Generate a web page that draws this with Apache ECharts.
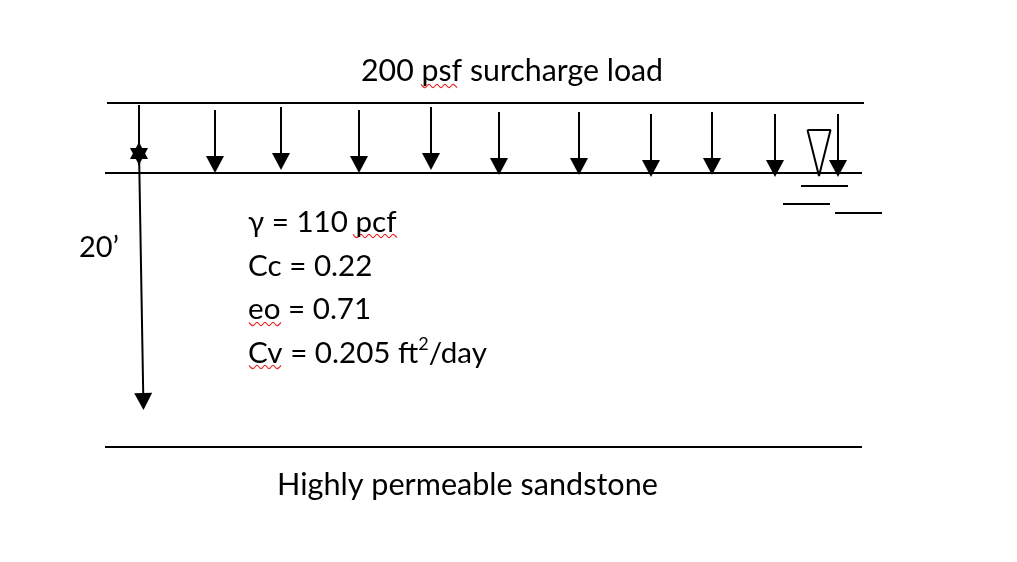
<!DOCTYPE html>
<html>
<head>
<meta charset="utf-8">
<style>html,body{margin:0;padding:0;background:#fff}#c{width:1017px;height:562px}</style>
<script src="https://cdn.jsdelivr.net/npm/echarts@6/dist/echarts.min.js"></script>
</head>
<body>
<div id="c"></div>
<script>
// Rules: [x1, y1, x2, y2]
var rules = [
  [107, 103, 864, 103],
  [105, 173, 862, 173],
  [105, 447, 862, 447],
  [801, 186, 848, 186],
  [783, 204, 830, 204],
  [835, 213, 882, 213]
];
// Arrows: [fromX, fromY, tipX, tipY]
var arrows = [
  [139, 105, 139, 165],
  [215, 110, 215, 173],
  [281, 107, 281, 170],
  [359, 110, 359, 173],
  [431, 107, 431, 170],
  [499, 112, 499, 175],
  [579, 112, 579, 175],
  [651, 114, 651, 177],
  [712, 112, 712, 175],
  [775, 114, 775, 177],
  [838, 114, 838, 177],
  [139, 165, 139, 142],
  [139, 150, 143.5, 410]
];
// Water table marker
var marker = [[807.5, 130], [830.5, 130], [819, 176], [807.5, 130]];
// Labels: [x, y, text]
var labels = [
  [361, 71, '200 psf surcharge load'],
  [79, 248, '20’'],
  [248, 222, 'γ = 110 pcf'],
  [248, 266, 'Cc = 0.22'],
  [248, 309, 'eo = 0.71'],
  [248, 353, 'Cv = 0.205 ft{s|2}/day'],
  [277, 485, 'Highly permeable sandstone']
];
// Spell-check underlines: [x1, x2, y]
var squiggles = [
  [421, 460, 86],
  [353, 398, 236],
  [249, 284, 324],
  [249, 284, 367]
];

var chart = echarts.init(document.getElementById('c'), null, {renderer: 'canvas'});
var INK = '#000000';
var FONT = 'Lato';
var SIZES = [30.3, 29, 29.6, 29.6, 29.6, 29.6, 30.6];

function renderRule(params, api) {
  var a = api.coord([api.value(0), api.value(1)]);
  var b = api.coord([api.value(2), api.value(3)]);
  return {type: 'line', shape: {x1: a[0], y1: a[1], x2: b[0], y2: b[1]},
    style: {stroke: INK, lineWidth: 2, fill: null}};
}
function renderArrow(params, api) {
  var a = api.coord([api.value(0), api.value(1)]);
  var b = api.coord([api.value(2), api.value(3)]);
  var dx = b[0] - a[0], dy = b[1] - a[1], len = Math.sqrt(dx * dx + dy * dy);
  var ux = dx / len, uy = dy / len, hl = 17, hw = 9;
  var bx = b[0] - ux * hl, by = b[1] - uy * hl;
  return {type: 'group', children: [
    {type: 'line', shape: {x1: a[0], y1: a[1], x2: bx, y2: by},
      style: {stroke: INK, lineWidth: 2, fill: null}},
    {type: 'polygon', shape: {points: [b, [bx - uy * hw, by + ux * hw], [bx + uy * hw, by - ux * hw]]},
      style: {fill: INK}}
  ]};
}
function renderLabel(params, api) {
  var p = api.coord([api.value(0), api.value(1)]);
  return {type: 'text', x: p[0], y: p[1], style: {
    text: labels[params.dataIndex][2], fill: INK, align: 'left', verticalAlign: 'middle',
    fontFamily: FONT, fontSize: SIZES[params.dataIndex],
    rich: {s: {fontFamily: FONT, fontSize: 18, fill: INK, verticalAlign: 'top', lineHeight: 36}}
  }};
}
function renderSquiggle(params, api) {
  var a = api.coord([api.value(0), api.value(2)]);
  var b = api.coord([api.value(1), api.value(2)]);
  var pts = [], step = 4, up = true;
  for (var x = a[0]; x <= b[0]; x += step) { pts.push([x, a[1] + (up ? -1.7 : 1.7)]); up = !up; }
  return {type: 'polyline', shape: {points: pts, smooth: 0.4},
    style: {stroke: '#e5302c', lineWidth: 1.2, fill: null}};
}

chart.setOption({
  animation: false,
  backgroundColor: '#ffffff',
  grid: {left: 0, right: 0, top: 0, bottom: 0},
  xAxis: {type: 'value', min: 0, max: 1017, show: false},
  yAxis: {type: 'value', min: 0, max: 562, inverse: true, show: false},
  series: [
    {type: 'custom', name: 'rules', clip: false, renderItem: renderRule, data: rules},
    {type: 'custom', name: 'arrows', clip: false, renderItem: renderArrow, data: arrows},
    {type: 'line', name: 'marker', data: marker, showSymbol: false, symbol: 'none',
      lineStyle: {color: INK, width: 2}, silent: true},
    {type: 'custom', name: 'squiggles', clip: false, renderItem: renderSquiggle, data: squiggles},
    {type: 'custom', name: 'labels', clip: false, renderItem: renderLabel,
      data: labels.map(function (l) { return [l[0], l[1]]; })}
  ]
});
</script>
</body>
</html>
